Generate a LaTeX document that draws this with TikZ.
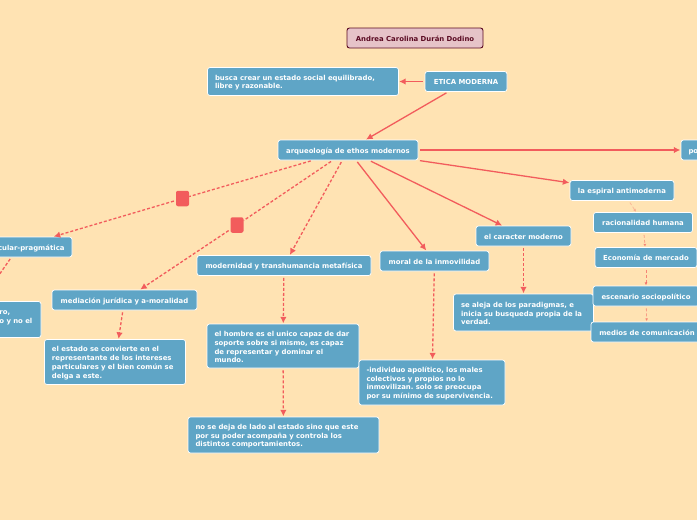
\documentclass[tikz,border=0pt]{standalone}
\usepackage{fontspec}
\setmainfont{DejaVu Sans}
\usetikzlibrary{arrows.meta}
\definecolor{pagecolor}{HTML}{FFE3B3}
\definecolor{boxcolor}{HTML}{5FA5C6}
\definecolor{linecolor}{HTML}{F25C5C}
\definecolor{titlecolor}{HTML}{E6C3C8}
\definecolor{titleline}{HTML}{5A0A22}
\tikzset{
    topic/.style={draw=white,fill=boxcolor,text=white,rounded corners=2.5pt,line width=0.7pt,
        inner xsep=7.5pt,inner ysep=0pt,minimum height=20pt,align=left,text height=6pt,text depth=0pt,
        font=\fontsize{6.9}{8.75}\selectfont\bfseries\frenchspacing},
    note/.style={topic,text height=,text depth=,execute at begin node={\leavevmode\rule{0pt}{7.5pt}}},
    title/.style={topic,draw=titleline,fill=titlecolor,text=titleline,line width=0.9pt},
    knot/.style={fill=linecolor,rounded corners=2pt,minimum width=13pt,minimum height=15.5pt,inner sep=0pt},
    link/.style={draw=linecolor,line width=1.3pt,shorten >=0.3pt,shorten <=2pt,-{Latex[length=6.5pt,width=6.5pt]}},
    plainlink/.style={draw=linecolor,line width=1.3pt,shorten <=2pt},
    dash link/.style={link,dash pattern=on 3pt off 2pt},
    dash plainlink/.style={plainlink,dash pattern=on 3pt off 2pt},
    pale link/.style={dash link,line width=0.8pt,-{Latex[length=3pt,width=3pt]}}
}
\begin{document}
\begin{tikzpicture}[x=1pt,y=-1pt]
    \useasboundingbox (0,0) rectangle (697,520);
    \fill[pagecolor] (0,0) rectangle (697,520);

    \node[title,minimum width=136pt] (author) at (415,38) {Andrea Carolina Durán Dodino};
    \node[note,text width=176pt,minimum height=28pt] (busca) at (303,81.5) {busca crear un estado social equilibrado,\\libre y razonable.};
    \node[topic,minimum width=82pt] (etica) at (466,81.5) {ETICA MODERNA};
    \node[topic,minimum width=140pt] (arq) at (348,150) {arqueología de ethos modernos};
    \node[topic,text width=45pt] (po) at (711,150) {po};

    \node[knot] (k1) at (182.5,198.5) {};
    \node[knot] (k2) at (237,225) {};

    \node[topic,text width=92pt,align=right] (prag) at (18.5,247) {cular-pragmática};
    \node[note,text width=131pt,minimum height=36pt] (prag2) at (-32,319.5) {\hspace*{97pt}ro,\\\hspace*{97pt}o y no el\\\null};
    \node[topic,minimum width=145pt] (mediacion) at (124.5,300) {mediación jurídica y a-moralidad};
    \node[note,text width=126pt,minimum height=45pt] (estado) at (115,362) {el estado se convierte en el\\representante de los intereses\\particulares y el bien común se\\delga a este.};

    \node[topic,minimum width=174pt] (modern) at (284,265.5) {modernidad y transhumancia metafísica};
    \node[note,text width=137pt,minimum height=44pt] (hombre) at (283,346) {el hombre es el unico capaz de dar\\soporte sobre si mismo, es capaz\\de representar y dominar el\\mundo.};
    \node[note,text width=176pt,minimum height=36pt] (deja) at (283.5,435) {no se deja de lado al estado sino que este\\por su poder acompaña y controla los\\distintos comportamientos.};

    \node[topic,minimum width=109pt] (moral) at (434.5,261) {moral de la inmovilidad};
    \node[note,text width=131pt,minimum height=45pt] (indiv) at (432,382.5) {-individuo apolítico, los males\\colectivos y propios no lo\\inmovilizan. solo se preocupa\\por su mínimo de supervivencia.};

    \node[topic,minimum width=95pt] (caracter) at (523.5,236) {el caracter moderno};
    \node[note,text width=125pt,minimum height=37pt] (aleja) at (523.5,312.5) {se aleja de los paradigmas, e\\inicia su busqueda propia de la\\verdad.};

    \node[topic,minimum width=104pt] (espiral) at (622,190.5) {la espiral antimoderna};
    \node[topic,minimum width=99pt] (racional) at (643,222.5) {racionalidad humana};
    \node[topic,minimum width=102pt] (economia) at (646,257.5) {Economía de mercado};
    \node[topic,minimum width=106pt] (escenario) at (646,296) {escenario sociopolítico};
    \node[topic,minimum width=112pt] (medios) at (647,332) {medios de comunicación};

    \draw[link] (etica) -- (busca);
    \draw[link] (etica) -- (arq);
    \draw[link] (arq) -- (po);
    \draw[link] (arq) -- (espiral);
    \draw[link] (arq) -- (caracter);
    \draw[link] (arq) -- (moral);
    \draw[dash link] (arq) -- (modern);
    \draw[dash plainlink] (arq) -- (k1);
    \draw[dash link] (k1) -- (prag);
    \draw[dash plainlink] (arq) -- (k2);
    \draw[dash link] (k2) -- (mediacion);
    \draw[dash link] (prag) -- (prag2);
    \draw[dash link] (mediacion) -- (estado);
    \draw[dash link] (modern) -- (hombre);
    \draw[dash link] (hombre) -- (deja);
    \draw[dash link] (moral) -- (indiv);
    \draw[dash link] (caracter) -- (aleja);
    \draw[pale link,opacity=.3] (espiral) -- (racional);
    \draw[pale link,opacity=.5] (racional) -- (economia);
    \draw[pale link,opacity=.7] (economia) -- (escenario);
    \draw[pale link,opacity=.5] (escenario) -- (medios);
\end{tikzpicture}
\end{document}
